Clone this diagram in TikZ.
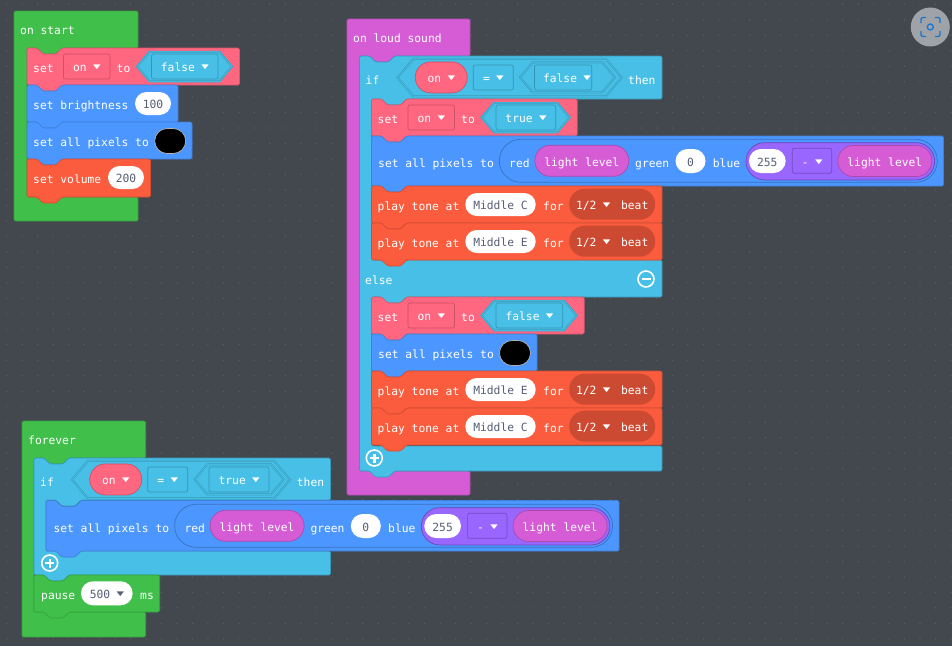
\documentclass[tikz,border=0pt]{standalone}
\usepackage{fontspec}
\usepackage{graphicx}
\setmainfont{DejaVu Sans Mono}
\usetikzlibrary{shapes.misc}

\definecolor{bgcol}{HTML}{43484F}
\definecolor{dotcol}{HTML}{5C6169}
\definecolor{hatgreen}{HTML}{40BF4A}
\definecolor{hatmag}{HTML}{D65CD6}
\definecolor{varred}{HTML}{FF6680}
\definecolor{looksblue}{HTML}{4C97FF}
\definecolor{toneorange}{HTML}{FA5C3D}
\definecolor{toneshade}{HTML}{CC4A31}
\definecolor{logiccyan}{HTML}{47BFE6}
\definecolor{mathpurple}{HTML}{9966FF}
\definecolor{ovaltxt}{HTML}{575E75}
\definecolor{camgrey}{HTML}{9FA3A7}
\definecolor{camblue}{HTML}{1976D2}

\tikzset{
  blk/.style={rounded corners=1.5pt,line width=.7pt},
  greenblk/.style={blk,fill=hatgreen,draw=hatgreen!85!black},
  magblk/.style={blk,fill=hatmag,draw=hatmag!85!black},
  redblk/.style={blk,fill=varred,draw=varred!85!black},
  blueblk/.style={blk,fill=looksblue,draw=looksblue!85!black},
  orangeblk/.style={blk,fill=toneorange,draw=toneorange!85!black},
  cyanblk/.style={blk,fill=logiccyan,draw=logiccyan!80!black},
  lbl/.style={inner sep=0pt,anchor=mid west,text=white,yshift=-2pt},
  vbox/.style={inner sep=0pt,text height=10.4pt,text depth=0pt},
  ddbox/.style={vbox,rectangle,rounded corners=2pt,line width=.7pt,minimum height=25pt,text=white},
  numoval/.style={vbox,rounded rectangle,fill=white,minimum height=24pt,text=ovaltxt},
  pixoval/.style={rounded rectangle,fill=black,draw=white!70!black,line width=.7pt,minimum width=31pt,minimum height=25pt,inner sep=0pt},
  magoval/.style={vbox,rounded rectangle,fill=hatmag,draw=hatmag!80!black,line width=.7pt,minimum width=94pt,minimum height=31pt,text=white},
  redoval/.style={vbox,rounded rectangle,fill=varred,draw=varred!80!black,line width=.7pt,minimum width=52pt,minimum height=31pt,text=white},
  beatoval/.style={vbox,rounded rectangle,fill=toneshade,minimum width=86pt,minimum height=31pt,text=white},
  hexline/.style={draw=logiccyan!82!black,line width=.5pt,line join=miter},
  roundbtn/.style={circle,fill=logiccyan,draw=white,line width=1.6pt,minimum size=16pt,inner sep=0pt},
  every node/.style={font=\fontsize{11.3}{13}\selectfont}
}

\def\notchr{-- ++(6,6) -- ++(13,0) -- ++(6,-6)}
\def\bumpl{-- ++(-6,6) -- ++(-13,0) -- ++(-6,-6)}
\newcommand{\dn}{\makebox[6.8pt]{\raisebox{.8pt}{\scalebox{1.7}[1.1]{▾}}}}

% style, x1, y1, x2, y2
\newcommand{\stackblk}[5]{
  \draw[#1] (#2,#3) -- ++(10,0) \notchr -- (#4,#3) -- (#4,#5) -- (#2+35,#5) \bumpl -- (#2,#5) -- cycle;
}
% style, x1, y1, x2, y2, mouth x, mouth top, mouth bottom
\newcommand{\hatblk}[8]{
  \draw[#1] (#2,#3) -- (#4,#3) -- (#4,#7) -- (#6+35,#7) \bumpl -- (#6,#7) -- (#6,#8) -- (#4,#8) -- (#4,#5) -- (#2,#5) -- cycle;
}
% x1, y1, x2, y2
\newcommand{\hexbox}[4]{
  \pgfmathsetmacro{\hexs}{.425*((#4)-(#2))}
  \path[hexline,fill=logiccyan] (#1,{((#2)+(#4))/2}) -- ({(#1)+\hexs},#2) -- ({(#3)-\hexs},#2) -- (#3,{((#2)+(#4))/2}) -- ({(#3)-\hexs},#4) -- ({(#1)+\hexs},#4) -- cycle;
}
% name, x, y, hex right, value
\newcommand{\setvar}[5]{
  \stackblk{redblk}{#2}{#3}{#4+6.5}{#3+37}
  \node[lbl] (#1set) at (#2+6,#3+20) {set};
  \node[ddbox,draw=varred!80!black,minimum width=46.5pt] (#1var) at (#2+59.7,#3+18.5) {on \dn};
  \node[lbl] (#1to) at (#2+89.5,#3+20) {to};
  \hexbox{#2+109}{#3+3}{#4}{#3+34}
  \hexbox{#2+111}{#3+4.5}{#4-2}{#3+32.5}
  \node[ddbox,draw=logiccyan!78!black,minimum width=#4-#2-139.5] (#1val) at ({((#2)+124.5+(#4)-15)/2},#3+18.5) {#5};
}
% name, y, note
\newcommand{\playtone}[3]{
  \stackblk{orangeblk}{371.5}{#2}{662}{#2+37}
  \node[lbl] (#1play) at (377.5,#2+20) {play tone at};
  \node[numoval,minimum width=70.4pt,minimum height=23pt] (#1note) at (500.5,#2+18.5) {#3};
  \node[lbl] (#1for) at (543,#2+20) {for};
  \node[beatoval] (#1beat) at (612.2,#2+18.2) {1/2 \dn\hspace{11pt}beat};
}
% name, x shift, y shift
\newcommand{\pixelrow}[3]{
  \begin{scope}[shift={(#2,#3)}]
    \node[lbl] (#1set) at (378,162.4) {set all pixels to};
    \node[vbox,rounded rectangle,draw=looksblue!75!black,line width=.7pt,minimum width=438pt,minimum height=43pt] (#1rgb) at (718.3,160.8) {};
    \node[lbl] (#1red) at (509,162.4) {red};
    \node[magoval] (#1lvla) at (581.8,160.8) {light level};
    \node[lbl] (#1green) at (635,162.4) {green};
    \node[numoval,minimum width=30pt] (#1zero) at (690.5,161) {0};
    \node[lbl] (#1blue) at (712.7,162.4) {blue};
    \node[vbox,rounded rectangle,fill=mathpurple,draw=mathpurple!70!black,line width=.7pt,minimum width=188.7pt,minimum height=37.3pt] (#1minus) at (840.3,161.3) {};
    \node[numoval,minimum width=36.7pt] (#1num) at (767.3,161) {255};
    \node[ddbox,draw=mathpurple!75!black,minimum width=39.4pt] (#1op) at (812,160.8) {- \dn};
    \node[magoval] (#1lvlb) at (884.8,161) {light level};
  \end{scope}
}
% name, x, y, value, value box width, inner hex right, big hex right, then x
\newcommand{\ifhead}[8]{
  \node[lbl] (#1if) at (#2+6,#3+24) {if};
  \hexbox{#2+37}{#3+2.2}{#7}{#3+41}
  \hexbox{#2+39}{#3+3.7}{#7-2}{#3+39.5}
  \node[redoval] (#1on) at (#2+81.75,#3+21.4) {on \dn};
  \node[ddbox,draw=logiccyan!78!black,minimum width=40pt] (#1eq) at (#2+133.7,#3+21.5) {= \dn};
  \hexbox{#2+159.5}{#3+5.7}{#6}{#3+37}
  \hexbox{#2+161.5}{#3+7.2}{#6-2}{#3+35.5}
  \node[ddbox,draw=logiccyan!78!black,minimum width=#5] (#1val) at (#2+175+#5/2,#3+21.5) {#4};
  \node[lbl] (#1then) at (#8,#3+23.5) {then};
}

\begin{document}
\begin{tikzpicture}[x=1pt,y=-1pt]
  \useasboundingbox (0,0) rectangle (952,653);
  \fill[bgcol] (0,0) rectangle (952,646);
  \fill[white] (0,646) rectangle (952,653);
  \fill[dotcol] \foreach \i in {0,...,61} {\foreach \j in {0,...,41} {(6.7+\i*15.48,4.2+\j*15.48) circle (.7)}};

  % on start
  \hatblk{greenblk}{14}{11}{138}{221}{27}{48}{197}
  \node[lbl] (startlbl) at (20,30) {on start};
  \setvar{sa}{27}{48}{233}{false \dn}
  \stackblk{blueblk}{27}{85}{178}{122}
  \node[lbl] (brightlbl) at (33,105) {set brightness};
  \node[numoval,minimum width=36pt,minimum height=23pt] (brightval) at (153,103.5) {100};
  \stackblk{blueblk}{27}{122}{192}{159}
  \node[lbl] (clearlbl) at (33,142) {set all pixels to};
  \node[pixoval] (clearval) at (170.2,141) {};
  \stackblk{orangeblk}{27}{159}{150.5}{197}
  \node[lbl] (vollbl) at (33,179) {set volume};
  \node[numoval,minimum width=36pt,minimum height=23pt] (volval) at (126,177.5) {200};

  % on loud sound
  \hatblk{magblk}{347}{19}{470}{495}{359.5}{56}{471}
  \node[lbl] (loudlbl) at (353,38) {on loud sound};
  \draw[cyanblk] (359.5,56) -- ++(10,0) \notchr -- (662,56) -- (662,99) -- (406.5,99) \bumpl -- (371.5,99) -- (371.5,260) -- (662,260) -- (662,297) -- (406.5,297) \bumpl -- (371.5,297) -- (371.5,446) -- (662,446) -- (662,471) -- (394.5,471) \bumpl -- (359.5,471) -- cycle;
  \ifhead{la}{359.5}{56}{\hspace{7.4pt}false \dn}{57.3}{616}{622.7}{628}
  \setvar{lb}{371.5}{99}{570.7}{true \dn}
  \stackblk{blueblk}{371.5}{136}{943.5}{186}
  \pixelrow{lc}{0}{0}
  \playtone{ld}{186}{Middle C}
  \playtone{le}{223}{Middle E}
  \node[lbl] (elselbl) at (365,280) {else};
  \node[roundbtn] (minusbtn) at (646,279) {};
  \draw[white,line width=2.4pt] ([xshift=-4.5pt]minusbtn.center) -- ([xshift=4.5pt]minusbtn.center);
  \setvar{lf}{371.5}{297}{577.7}{false \dn}
  \stackblk{blueblk}{371.5}{334}{537}{371}
  \node[lbl] (lgclear) at (378,354) {set all pixels to};
  \node[pixoval] (lgval) at (515,353) {};
  \playtone{lg}{371}{Middle E}
  \playtone{lh}{408}{Middle C}
  \node[roundbtn] (plusbtn) at (374.3,458) {};
  \draw[white,line width=2.4pt] ([xshift=-4.5pt]plusbtn.center) -- ([xshift=4.5pt]plusbtn.center);
  \draw[white,line width=2.4pt] ([yshift=-4.5pt]plusbtn.center) -- ([yshift=4.5pt]plusbtn.center);

  % forever
  \hatblk{greenblk}{22}{421}{145.7}{637}{34}{458}{612}
  \node[lbl] (foreverlbl) at (28,440) {forever};
  \draw[cyanblk] (34,458) -- ++(10,0) \notchr -- (330.5,458) -- (330.5,500) -- (81,500) \bumpl -- (46,500) -- (46,551) -- (330.5,551) -- (330.5,575) -- (69,575) \bumpl -- (34,575) -- cycle;
  \ifhead{fa}{34}{458}{true \dn}{60}{284.7}{291}{296.7}
  \stackblk{blueblk}{46}{500.5}{619}{551}
  \pixelrow{fb}{-324.7}{365}
  \node[roundbtn] (plusbtnb) at (49.7,563) {};
  \draw[white,line width=2.4pt] ([xshift=-4.5pt]plusbtnb.center) -- ([xshift=4.5pt]plusbtnb.center);
  \draw[white,line width=2.4pt] ([yshift=-4.5pt]plusbtnb.center) -- ([yshift=4.5pt]plusbtnb.center);
  \stackblk{greenblk}{34}{575}{159.7}{612}
  \node[lbl] (pauselbl) at (41,595) {pause};
  \node[numoval,minimum width=51.7pt] (pauseval) at (106.8,593.3) {500 \dn};
  \node[lbl] (mslbl) at (140,595) {ms};

  % camera button
  \node[circle,fill=camgrey,minimum size=39pt,inner sep=0pt] (cambtn) at (930.3,27) {};
  \node[circle,draw=camblue,line width=1.3pt,minimum size=6pt,inner sep=0pt] (camlens) at (cambtn.center) {};
  \draw[camblue,line width=1.4pt,rounded corners=2pt] (921,23) -- (921,17.5) -- (926,17.5);
  \draw[camblue,line width=1.4pt,rounded corners=2pt] (935,17.5) -- (940,17.5) -- (940,23);
  \draw[camblue,line width=1.4pt,rounded corners=2pt] (921,31) -- (921,36.5) -- (926,36.5);
  \draw[camblue,line width=1.4pt,rounded corners=2pt] (935,36.5) -- (940,36.5) -- (940,31);
\end{tikzpicture}
\end{document}
